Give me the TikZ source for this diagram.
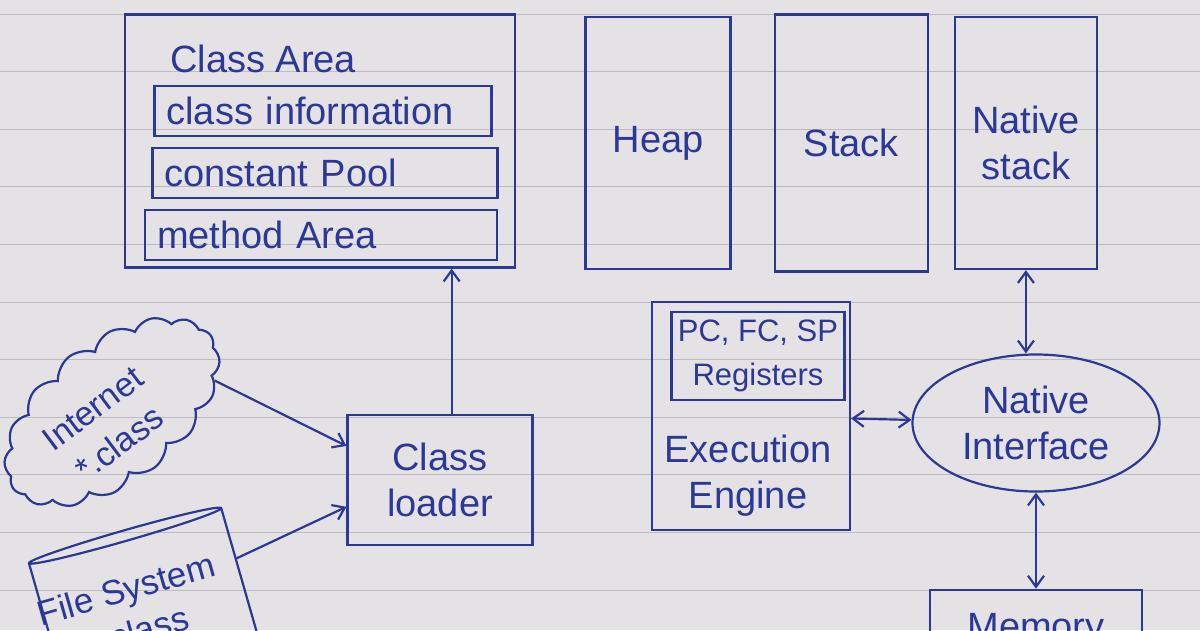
\documentclass[tikz,border=0pt]{standalone}
\usepackage{fontspec}
\setmainfont{Liberation Sans}
\usepackage{tikz}
\usetikzlibrary{shapes.geometric, shapes.symbols, arrows.meta, positioning}

\definecolor{ink}{RGB}{44,56,150}
\definecolor{paper}{RGB}{228,226,228}
\definecolor{ruling}{RGB}{190,188,194}

\begin{document}
\begin{tikzpicture}[
  x=1pt, y=-1pt,
  node distance=40pt and 40pt,
  box/.style={rectangle, draw=ink, line width=2.2pt, text=ink, align=center, inner sep=0pt, font=\fontsize{38}{46}\selectfont},
  slot/.style={box, minimum height=50, align=left, inner xsep=12pt},
  words/.style={text=ink, align=center, inner sep=0pt, font=\fontsize{38}{46}\selectfont},
  arrow/.style={->, >={Straight Barb[length=11pt, width=16pt]}, draw=ink, line width=2.2pt},
  both/.style={<->, >={Straight Barb[length=11pt, width=16pt]}, draw=ink, line width=2.2pt}
]

\useasboundingbox (0,0) rectangle (1200,630);
\clip (0,0) rectangle (1200,630);
\fill[paper] (0,0) rectangle (1200,630);
\foreach \k in {0,...,10}
  \draw[ruling, line width=1pt] (0,14+57.6*\k) -- (1200,14+57.6*\k);

\node[box, minimum width=390, minimum height=253] (classarea) at (320,141) {};
\node[words, anchor=base west] (areatitle) at (170,72) {Class Area};
\node[slot, text width=313] (info) at (323,111) {class information};
\node[slot, text width=321] (pool) at (325,173) {constant Pool};
\node[slot, text width=328] (method) at (321,235) {method Area};

\node[box, minimum width=145, minimum height=252] (heap) at (658,143) {Heap};
\node[box, right=42pt of heap, minimum width=153, minimum height=257] (stack) {Stack};
\node[box, right=25pt of stack, minimum width=142, minimum height=252] (nstack) {Native\\stack};

\node[box, minimum width=185, minimum height=130] (loader) at (440,480) {Class\\loader};
\node[cloud, draw=ink, line width=2.2pt, cloud puffs=16, cloud puff arc=110, aspect=1.8, minimum width=250, minimum height=140, rotate=38] (internet) at (112,412) {};
\node[words, rotate=37, font=\fontsize{34}{44}\selectfont] (nettext) at (106,426) {Internet\\*.class};
\node[cylinder, draw=ink, line width=2.2pt, shape border rotate=90, aspect=1.6, minimum width=200, minimum height=220, rotate=16] (files) at (155,640) {};
\node[words, rotate=16, font=\fontsize{35}{44}\selectfont] (filetext) at (132,610) {File System\\*.class};

\node[box, minimum width=198, minimum height=228] (engine) at (751,416) {};
\node[box, minimum width=173, minimum height=88, font=\fontsize{31}{44}\selectfont] (regs) at (758,356) {PC, FC, SP\\Registers};
\node[words] (enginetext) at (748,476) {Execution\\Engine};

\node[ellipse, draw=ink, line width=2.2pt, text=ink, align=center, inner sep=0pt, minimum width=247, minimum height=137, font=\fontsize{38}{46}\selectfont] (iface) at (1036,423) {Native\\Interface};
\node[box, below=96pt of iface, minimum width=212, minimum height=140] (memory) {};
\node[words, anchor=north] (memtext) at ([yshift=-25pt]memory.north) {Memory};

\draw[arrow] (loader.80) -- (loader.80 |- classarea.south);
\draw[arrow] (internet.-21) -- (loader.160);
\draw[arrow] (files.29) -- (loader.196);
\draw[both] (engine) -- (iface);
\draw[both] (nstack.south) -- (nstack.south |- iface.north);
\draw[both] (iface.south) -- (iface.south |- memory.north);

\end{tikzpicture}
\end{document}
